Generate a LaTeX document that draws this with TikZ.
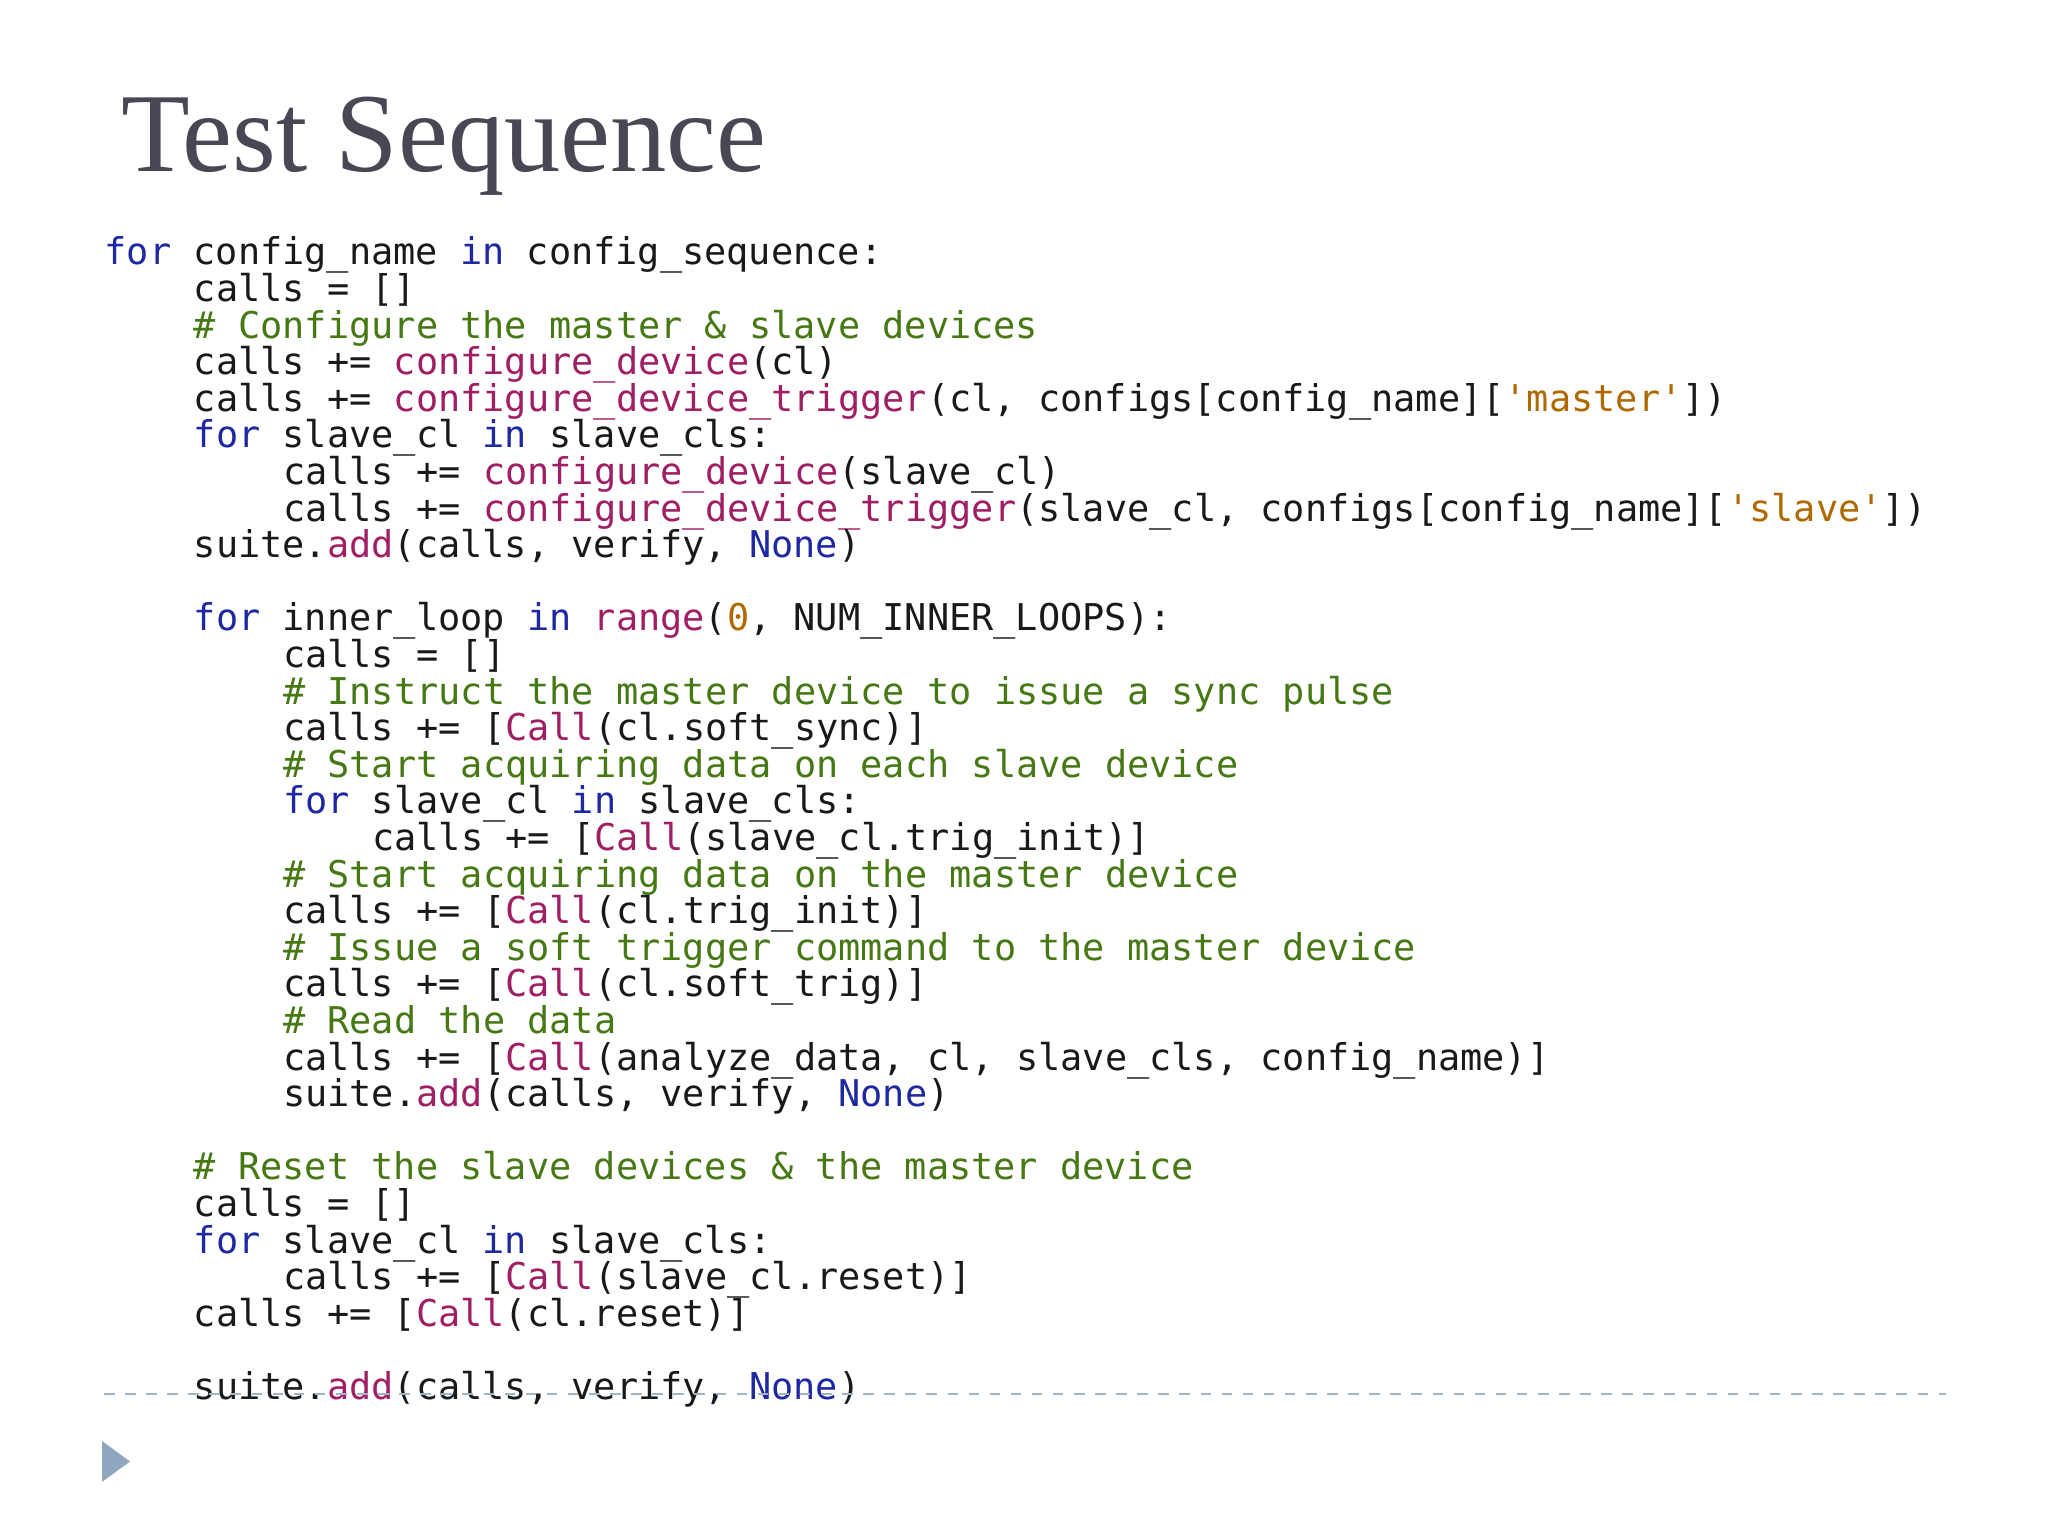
\documentclass[tikz,border=0pt]{standalone}
\usepackage{fontspec}
\setmainfont{Liberation Serif}
\newfontfamily\codefont{DejaVu Sans Mono}
\usetikzlibrary{shapes.geometric}
\definecolor{titlegray}{RGB}{72,72,84}
\definecolor{kwblue}{RGB}{30,40,160}
\definecolor{fnpink}{RGB}{160,30,100}
\definecolor{cmgreen}{RGB}{70,120,20}
\definecolor{strbrown}{RGB}{175,105,0}
\definecolor{rulegray}{RGB}{160,180,200}
\definecolor{arrowblue}{RGB}{143,167,192}
\newcommand{\kwd}[1]{\textcolor{kwblue}{#1}}
\newcommand{\fnc}[1]{\textcolor{fnpink}{#1}}
\newcommand{\cmt}[1]{\textcolor{cmgreen}{#1}}
\newcommand{\strg}[1]{\textcolor{strbrown}{#1}}
\tikzset{
  code/.style={anchor=base west, inner sep=0pt, font=\codefont\fontsize{10.5}{10.5}\selectfont, text=black!90},
  title/.style={anchor=base west, inner sep=0pt, font=\fontsize{32}{32}\selectfont, text=titlegray}
}
\begin{document}
\begin{tikzpicture}
\useasboundingbox (0,0) rectangle (20.48,15.36);
\node [title] (title) at (1.21, 13.64) {Test Sequence};
% code lines
\begin{scope}[shift={(1.04,12.71)}]
\node [code] (l1) at (0, 0) {\kwd{for} config\_name \kwd{in} config\_sequence:};
\node [code] (l2) at (0.892, -0.366*1) {calls = []};
\node [code] (l3) at (0.892, -0.366*2) {\cmt{\# Configure the master \& slave devices}};
\node [code] (l4) at (0.892, -0.366*3) {calls += \fnc{configure\_device}(cl)};
\node [code] (l5) at (0.892, -0.366*4) {calls += \fnc{configure\_device\_trigger}(cl, configs[config\_name][\strg{'master'}])};
\node [code] (l6) at (0.892, -0.366*5) {\kwd{for} slave\_cl \kwd{in} slave\_cls:};
\node [code] (l7) at (1.784, -0.366*6) {calls += \fnc{configure\_device}(slave\_cl)};
\node [code] (l8) at (1.784, -0.366*7) {calls += \fnc{configure\_device\_trigger}(slave\_cl, configs[config\_name][\strg{'slave'}])};
\node [code] (l9) at (0.892, -0.366*8) {suite.\fnc{add}(calls, verify, \kwd{None})};
\node [code] (l11) at (0.892, -0.366*10) {\kwd{for} inner\_loop \kwd{in} \fnc{range}(\strg{0}, NUM\_INNER\_LOOPS):};
\node [code] (l12) at (1.784, -0.366*11) {calls = []};
\node [code] (l13) at (1.784, -0.366*12) {\cmt{\# Instruct the master device to issue a sync pulse}};
\node [code] (l14) at (1.784, -0.366*13) {calls += [\fnc{Call}(cl.soft\_sync)]};
\node [code] (l15) at (1.784, -0.366*14) {\cmt{\# Start acquiring data on each slave device}};
\node [code] (l16) at (1.784, -0.366*15) {\kwd{for} slave\_cl \kwd{in} slave\_cls:};
\node [code] (l17) at (2.676, -0.366*16) {calls += [\fnc{Call}(slave\_cl.trig\_init)]};
\node [code] (l18) at (1.784, -0.366*17) {\cmt{\# Start acquiring data on the master device}};
\node [code] (l19) at (1.784, -0.366*18) {calls += [\fnc{Call}(cl.trig\_init)]};
\node [code] (l20) at (1.784, -0.366*19) {\cmt{\# Issue a soft trigger command to the master device}};
\node [code] (l21) at (1.784, -0.366*20) {calls += [\fnc{Call}(cl.soft\_trig)]};
\node [code] (l22) at (1.784, -0.366*21) {\cmt{\# Read the data}};
\node [code] (l23) at (1.784, -0.366*22) {calls += [\fnc{Call}(analyze\_data, cl, slave\_cls, config\_name)]};
\node [code] (l24) at (1.784, -0.366*23) {suite.\fnc{add}(calls, verify, \kwd{None})};
\node [code] (l26) at (0.892, -0.366*25) {\cmt{\# Reset the slave devices \& the master device}};
\node [code] (l27) at (0.892, -0.366*26) {calls = []};
\node [code] (l28) at (0.892, -0.366*27) {\kwd{for} slave\_cl \kwd{in} slave\_cls:};
\node [code] (l29) at (1.784, -0.366*28) {calls += [\fnc{Call}(slave\_cl.reset)]};
\node [code] (l30) at (0.892, -0.366*29) {calls += [\fnc{Call}(cl.reset)]};
\node [code] (l32) at (0.892, -0.366*31) {suite.\fnc{add}(calls, verify, \kwd{None})};
\end{scope}
% footer
\draw [rulegray, dashed, line width=0.8pt] (1.04, 1.42) -- (19.46, 1.42);
\fill [arrowblue] (1.02, 0.95) -- (1.30, 0.745) -- (1.02, 0.54) -- cycle;
\end{tikzpicture}
\end{document}
